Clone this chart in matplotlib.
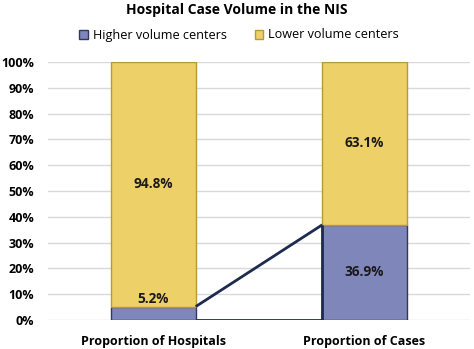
import matplotlib
matplotlib.use("Agg")
import matplotlib.pyplot as plt
from matplotlib.patches import Patch
from matplotlib.ticker import FuncFormatter

categories = ["Proportion of Hospitals", "Proportion of Cases"]
higher = [5.2, 36.9]
lower = [94.8, 63.1]
series_names = ["Higher volume centers", "Lower volume centers"]
title = "Hospital Case Volume in the NIS"

plt.rcParams['font.family'] = ['Open Sans', 'DejaVu Sans']

blue = "#7F86BA"
blue_edge = "#2F3763"
yellow = "#EDD068"
yellow_edge = "#B59A3A"
line_col = "#1F2A50"

fig = plt.figure(figsize=(4.74, 3.49), dpi=100)
ax = fig.add_axes([48/474, 1-320/349, (470-48)/474, (320-62)/349])

x = list(range(len(categories)))
w = 0.4
ax.bar(x, higher, width=w, color=blue, edgecolor=blue_edge, linewidth=1.0, zorder=3)
ax.bar(x, lower, width=w, bottom=higher, color=yellow, edgecolor=yellow_edge, linewidth=1.0, zorder=3)

# connector lines
x0 = x[0] + w/2
x1 = x[1] - w/2
ax.plot([x0, x1], [higher[0], higher[1]], color=line_col, lw=2, zorder=4, solid_capstyle='butt')
ax.plot([x0, x1, x1], [0, 0, higher[1]], color=line_col, lw=2, zorder=4, solid_capstyle='butt')

# labels
lab_fs = 9.8
ax.text(x[0], higher[0] + 0.4, f"{higher[0]:.1f}%", ha='center', va='bottom', fontsize=lab_fs, fontweight='bold', color='#1a1a1a', zorder=5)
ax.text(x[1], higher[1]/2, f"{higher[1]:.1f}%", ha='center', va='center', fontsize=lab_fs, fontweight='bold', color='#1a1a1a', zorder=5)
for i in range(2):
    ax.text(x[i], higher[i] + lower[i]/2, f"{lower[i]:.1f}%", ha='center', va='center', fontsize=lab_fs, fontweight='bold', color='#1a1a1a', zorder=5)

ax.set_xlim(-0.5, 1.5)
ax.set_ylim(0, 100)
ax.set_yticks(range(0, 101, 10))
ax.yaxis.set_major_formatter(FuncFormatter(lambda v, p: f"{int(v)}%"))
ax.set_xticks(x)
ax.set_xticklabels(categories, fontsize=9, fontweight='bold')
for lab in ax.get_yticklabels():
    lab.set_fontweight('bold')
    lab.set_fontsize(9)
ax.tick_params(axis='both', length=0)
ax.tick_params(axis='x', pad=11)
ax.tick_params(axis='y', pad=10)
ax.grid(axis='y', color='#D9D9D9', lw=1, zorder=0)
for s in ax.spines.values():
    s.set_visible(False)

fig.text(237/474, 1-10/349, title, ha='center', va='center', fontsize=10, fontweight='bold')
handles = [Patch(facecolor=blue, edgecolor=blue_edge, lw=1), Patch(facecolor=yellow, edgecolor=yellow_edge, lw=1)]
fig.legend(handles, series_names, loc='center', bbox_to_anchor=(239/474, 1-35/349), ncol=2, frameon=False,
           fontsize=9.1, handlelength=0.7, handleheight=0.7, handletextpad=0.4, columnspacing=2.2)

fig.savefig("out.png", dpi=100)
